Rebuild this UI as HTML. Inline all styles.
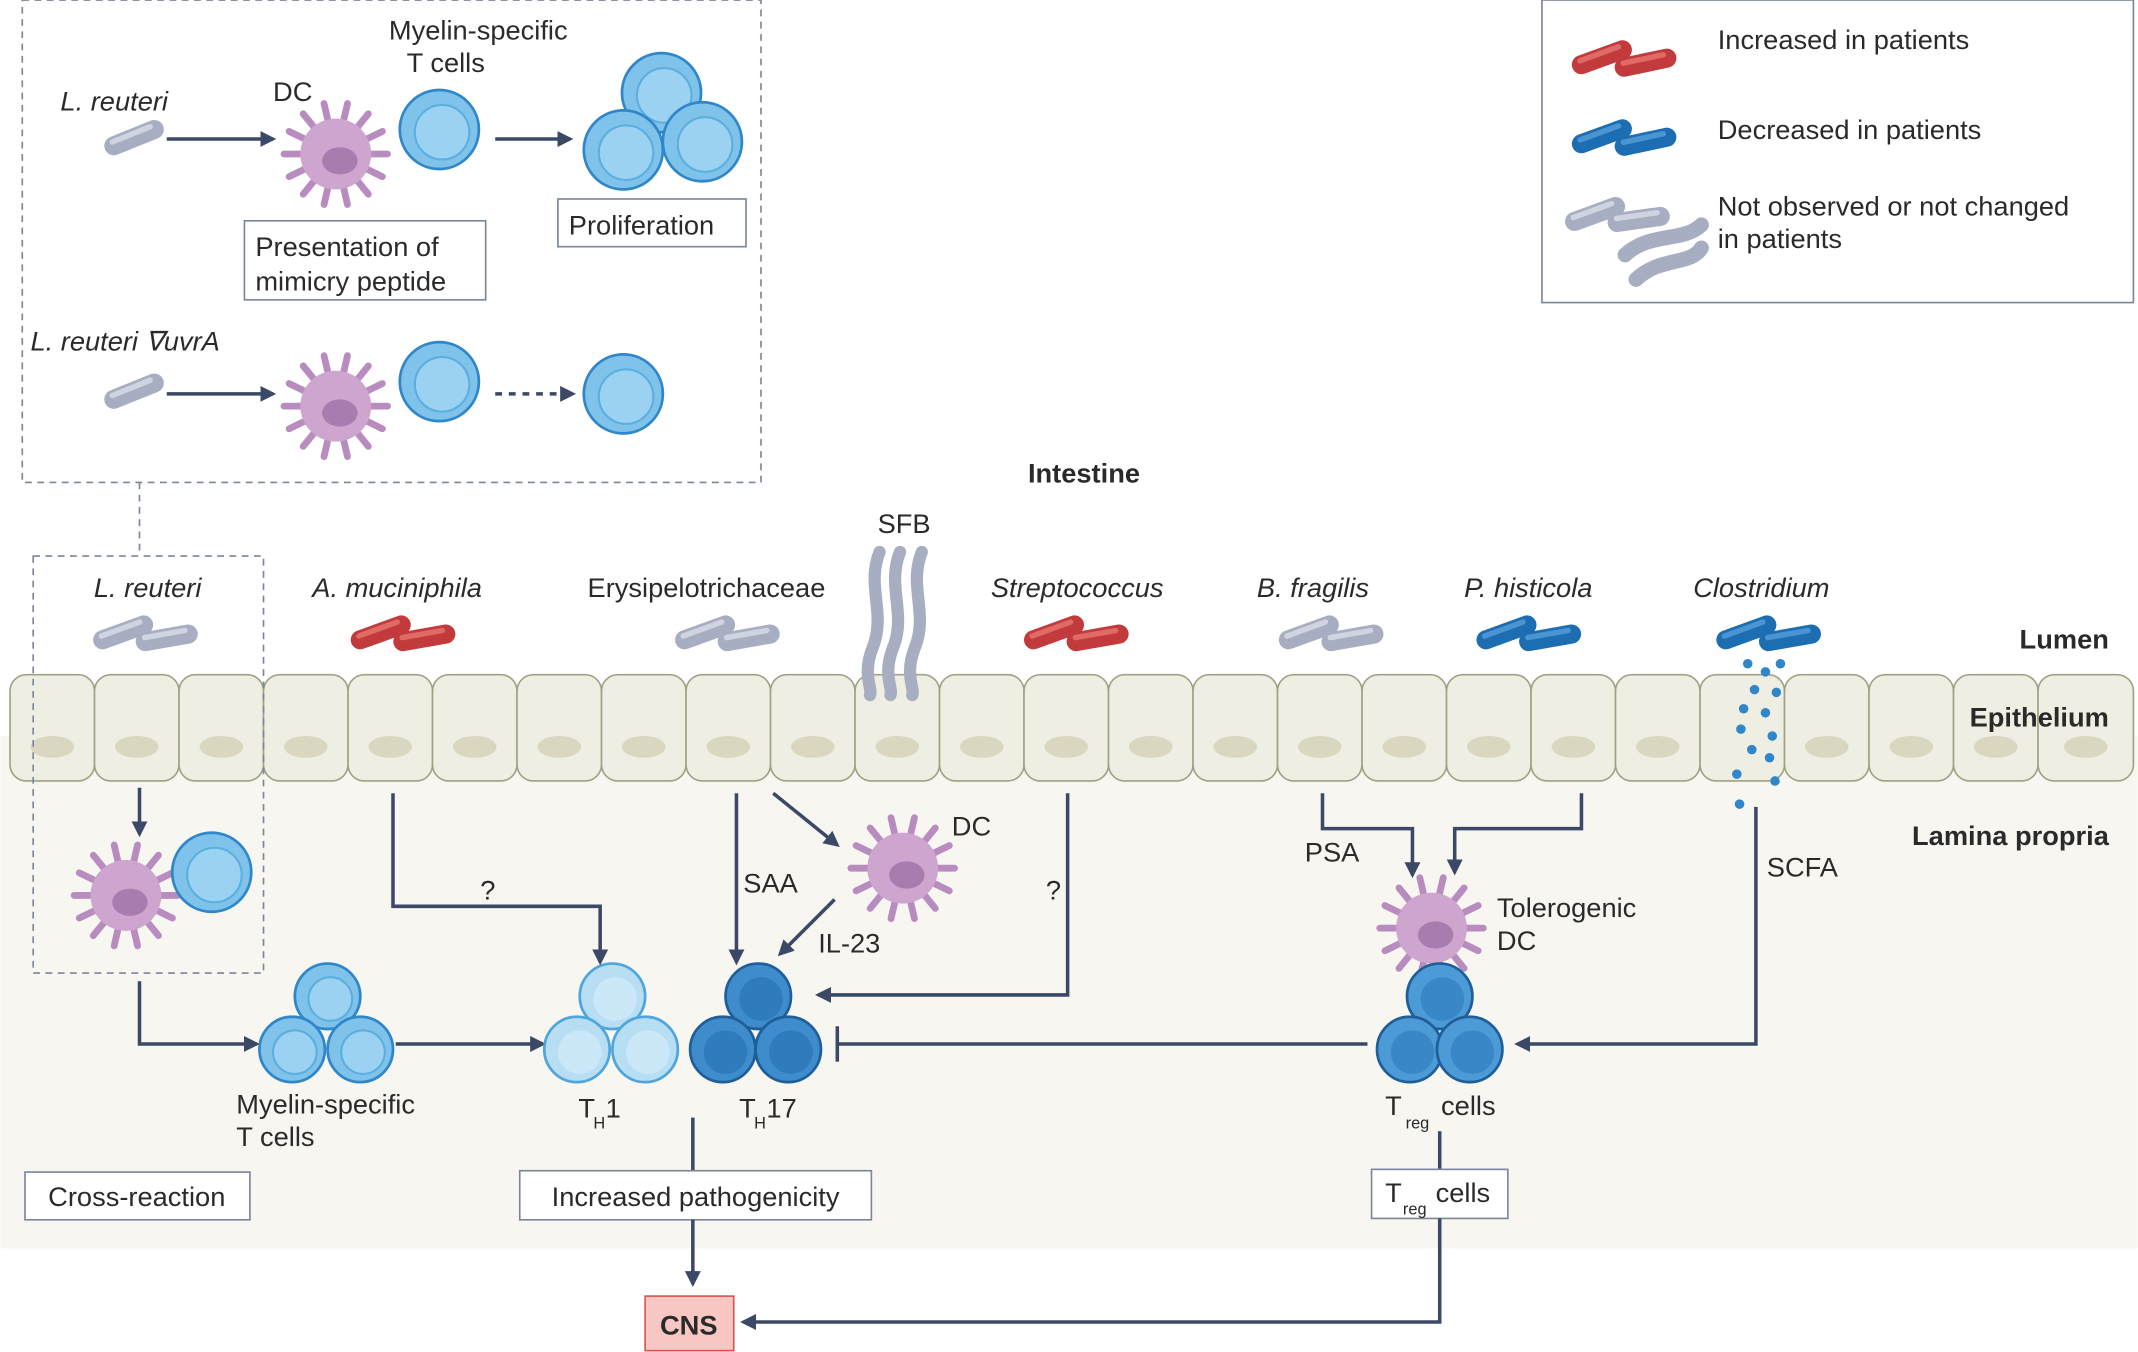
<!DOCTYPE html>
<html><head><meta charset="utf-8"><style>
html,body{margin:0;padding:0;background:#fff;}
svg{display:block;}
text{font-family:"Liberation Sans",sans-serif;font-size:20px;fill:#2a2a2a;}
.i{font-style:italic;}
.b{font-weight:bold;}
.ar{stroke:#3b4866;stroke-width:2.6;fill:none;}
</style></head><body>
<svg width="2138" height="1352" viewBox="0 0 1568 992" xmlns="http://www.w3.org/2000/svg">
<defs>
<marker id="ah" viewBox="0 0 10 10" refX="8" refY="5" markerWidth="4.5" markerHeight="4.5" orient="auto"><path d="M0,0 L10,5 L0,10 z" fill="#3b4866"/></marker>
<symbol id="dc" viewBox="-45 -45 90 90" overflow="visible">
<g stroke="#b88cbf" stroke-width="5" stroke-linecap="round">
<line x1="22" y1="0" x2="38" y2="0"/><line x1="19.8" y1="9.6" x2="34.2" y2="16.6"/><line x1="13.8" y1="17.1" x2="23.9" y2="29.5"/><line x1="5" y1="21.4" x2="8.6" y2="37"/><line x1="-5" y1="21.4" x2="-8.6" y2="37"/><line x1="-13.8" y1="17.1" x2="-23.9" y2="29.5"/><line x1="-19.8" y1="9.6" x2="-34.2" y2="16.6"/><line x1="-22" y1="0" x2="-38" y2="0"/><line x1="-19.8" y1="-9.6" x2="-34.2" y2="-16.6"/><line x1="-13.8" y1="-17.1" x2="-23.9" y2="-29.5"/><line x1="-5" y1="-21.4" x2="-8.6" y2="-37"/><line x1="5" y1="-21.4" x2="8.6" y2="-37"/><line x1="13.8" y1="-17.1" x2="23.9" y2="-29.5"/><line x1="19.8" y1="-9.6" x2="34.2" y2="-16.6"/>
</g>
<circle r="26" fill="#cda5cf"/>
<ellipse cx="3" cy="5" rx="13" ry="10" fill="#a97cb0"/>
</symbol>
<symbol id="tc" viewBox="-32 -32 64 64" overflow="visible">
<circle r="29" fill="#7fc2ea" stroke="#2f86c8" stroke-width="2"/><circle cx="2" cy="2" r="20" fill="#9bd2f1" stroke="#5aaee0" stroke-width="1.5"/>
</symbol>
<symbol id="tcs" viewBox="-32 -32 64 64" overflow="visible">
<circle r="24" fill="#7fc2ea" stroke="#2f86c8" stroke-width="2"/><circle cx="2" cy="2" r="16" fill="#9bd2f1" stroke="#5aaee0" stroke-width="1.5"/>
</symbol>
<symbol id="t1" viewBox="-32 -32 64 64" overflow="visible">
<circle r="24" fill="#b8def4" stroke="#4ea6dc" stroke-width="2"/><circle cx="2" cy="2" r="16" fill="#cbe8f8"/>
</symbol>
<symbol id="t17" viewBox="-32 -32 64 64" overflow="visible">
<circle r="24" fill="#3f8ccc" stroke="#1e5f9a" stroke-width="2"/><circle cx="2" cy="2" r="16" fill="#2f7bbd"/>
</symbol>
<symbol id="tr" viewBox="-32 -32 64 64" overflow="visible">
<circle r="24" fill="#4c9ad6" stroke="#1e5f9a" stroke-width="2"/><circle cx="2" cy="2" r="16" fill="#3a87c8"/>
</symbol>
<symbol id="bR" viewBox="-25 -9 50 18" overflow="visible"><rect x="-23" y="-7" width="46" height="14" rx="7" fill="#c23a3c"/><rect x="-18" y="-5" width="34" height="4" rx="2" fill="#e06a66"/></symbol>
<symbol id="bB" viewBox="-25 -9 50 18" overflow="visible"><rect x="-23" y="-7" width="46" height="14" rx="7" fill="#1d6db2"/><rect x="-18" y="-5" width="34" height="4" rx="2" fill="#4a94d2"/></symbol>
<symbol id="bG" viewBox="-25 -9 50 18" overflow="visible"><rect x="-23" y="-7" width="46" height="14" rx="7" fill="#a8aec2"/><rect x="-18" y="-5" width="34" height="4" rx="2" fill="#d0d4e0"/></symbol>
</defs>

<rect x="0" y="540" width="1568" height="376" fill="#f7f6f1"/>

<g id="epi">
<g stroke="#9fa384" stroke-width="1.2" fill="#efeee2">
<rect x="7" y="495" width="62" height="78" rx="12"/><rect x="69" y="495" width="62" height="78" rx="12"/><rect x="131" y="495" width="62" height="78" rx="12"/><rect x="193" y="495" width="62" height="78" rx="12"/><rect x="255" y="495" width="62" height="78" rx="12"/><rect x="317" y="495" width="62" height="78" rx="12"/><rect x="379" y="495" width="62" height="78" rx="12"/><rect x="441" y="495" width="62" height="78" rx="12"/><rect x="503" y="495" width="62" height="78" rx="12"/><rect x="565" y="495" width="62" height="78" rx="12"/><rect x="627" y="495" width="62" height="78" rx="12"/><rect x="689" y="495" width="62" height="78" rx="12"/><rect x="751" y="495" width="62" height="78" rx="12"/><rect x="813" y="495" width="62" height="78" rx="12"/><rect x="875" y="495" width="62" height="78" rx="12"/><rect x="937" y="495" width="62" height="78" rx="12"/><rect x="999" y="495" width="62" height="78" rx="12"/><rect x="1061" y="495" width="62" height="78" rx="12"/><rect x="1123" y="495" width="62" height="78" rx="12"/><rect x="1185" y="495" width="62" height="78" rx="12"/><rect x="1247" y="495" width="62" height="78" rx="12"/><rect x="1309" y="495" width="62" height="78" rx="12"/><rect x="1371" y="495" width="62" height="78" rx="12"/><rect x="1433" y="495" width="62" height="78" rx="12"/><rect x="1495" y="495" width="70" height="78" rx="12"/>
</g>
<g fill="#d9d7c0">
<ellipse cx="38" cy="548" rx="16" ry="8"/><ellipse cx="100" cy="548" rx="16" ry="8"/><ellipse cx="162" cy="548" rx="16" ry="8"/><ellipse cx="224" cy="548" rx="16" ry="8"/><ellipse cx="286" cy="548" rx="16" ry="8"/><ellipse cx="348" cy="548" rx="16" ry="8"/><ellipse cx="410" cy="548" rx="16" ry="8"/><ellipse cx="472" cy="548" rx="16" ry="8"/><ellipse cx="534" cy="548" rx="16" ry="8"/><ellipse cx="596" cy="548" rx="16" ry="8"/><ellipse cx="658" cy="548" rx="16" ry="8"/><ellipse cx="720" cy="548" rx="16" ry="8"/><ellipse cx="782" cy="548" rx="16" ry="8"/><ellipse cx="844" cy="548" rx="16" ry="8"/><ellipse cx="906" cy="548" rx="16" ry="8"/><ellipse cx="968" cy="548" rx="16" ry="8"/><ellipse cx="1030" cy="548" rx="16" ry="8"/><ellipse cx="1092" cy="548" rx="16" ry="8"/><ellipse cx="1154" cy="548" rx="16" ry="8"/><ellipse cx="1216" cy="548" rx="16" ry="8"/><ellipse cx="1340" cy="548" rx="16" ry="8"/><ellipse cx="1402" cy="548" rx="16" ry="8"/><ellipse cx="1464" cy="548" rx="16" ry="8"/><ellipse cx="1530" cy="548" rx="16" ry="8"/>
</g>
</g>

<rect x="16" y="0" width="542" height="354" fill="none" stroke="#7b8699" stroke-width="1.2" stroke-dasharray="5,4"/>
<line x1="102" y1="354" x2="102" y2="408" stroke="#7b8699" stroke-width="1.2" stroke-dasharray="5,4"/>
<rect x="24" y="408" width="169" height="306" fill="none" stroke="#7b8699" stroke-width="1.2" stroke-dasharray="5,4"/>

<text x="44" y="81" class="i">L. reuteri</text>
<use href="#bG" x="73" y="92" width="50" height="18" transform="rotate(-22 98 101)"/>
<line x1="122" y1="102" x2="200" y2="102" class="ar" marker-end="url(#ah)"/>
<text x="200" y="74">DC</text>
<use href="#dc" x="201" y="68" width="90" height="90"/>
<use href="#tc" x="290" y="63" width="64" height="64"/>
<text x="285" y="29">Myelin-specific</text>
<text x="298" y="53">T cells</text>
<line x1="363" y1="102" x2="418" y2="102" class="ar" marker-end="url(#ah)"/>
<use href="#tc" x="453" y="36" width="64" height="64"/>
<use href="#tc" x="425" y="78" width="64" height="64"/>
<use href="#tc" x="483" y="72" width="64" height="64"/>
<rect x="179" y="162" width="177" height="58" fill="#fff" stroke="#7b8699" stroke-width="1.2"/>
<text x="187" y="188">Presentation of</text><text x="187" y="213">mimicry peptide</text>
<rect x="409" y="146" width="138" height="35" fill="#fff" stroke="#7b8699" stroke-width="1.2"/>
<text x="417" y="172">Proliferation</text>

<text x="22" y="257" class="i">L. reuteri ∇uvrA</text>
<use href="#bG" x="73" y="278" width="50" height="18" transform="rotate(-22 98 287)"/>
<line x1="122" y1="289" x2="200" y2="289" class="ar" marker-end="url(#ah)"/>
<use href="#dc" x="201" y="253" width="90" height="90"/>
<use href="#tc" x="290" y="248" width="64" height="64"/>
<line x1="363" y1="289" x2="420" y2="289" class="ar" stroke-dasharray="5,5" marker-end="url(#ah)"/>
<use href="#tc" x="425" y="257" width="64" height="64"/>

<rect x="1131" y="0" width="434" height="222" fill="#fff" stroke="#7b8699" stroke-width="1.2"/>
<use href="#bR" x="1150" y="33" width="50" height="18" transform="rotate(-20 1175 42)"/>
<use href="#bR" x="1182" y="37" width="50" height="18" transform="rotate(-12 1207 46)"/>
<text x="1260" y="36">Increased in patients</text>
<use href="#bB" x="1150" y="91" width="50" height="18" transform="rotate(-20 1175 100)"/>
<use href="#bB" x="1182" y="95" width="50" height="18" transform="rotate(-12 1207 104)"/>
<text x="1260" y="102">Decreased in patients</text>
<use href="#bG" x="1145" y="148" width="50" height="18" transform="rotate(-20 1170 157)"/>
<use href="#bG" x="1177" y="152" width="50" height="18" transform="rotate(-8 1202 161)"/>
<path d="M1192,187 C1210,170 1235,178 1248,165" stroke="#a8aec2" stroke-width="11" stroke-linecap="round" fill="none"/>
<path d="M1200,205 C1218,188 1240,195 1248,182" stroke="#a8aec2" stroke-width="11" stroke-linecap="round" fill="none"/>
<text x="1260" y="158">Not observed or not changed</text>
<text x="1260" y="182">in patients</text>

<text x="795" y="354" class="b" text-anchor="middle">Intestine</text>
<text x="108" y="438" class="i" text-anchor="middle">L. reuteri</text>
<text x="291" y="438" class="i" text-anchor="middle">A. muciniphila</text>
<text x="518" y="438" text-anchor="middle">Erysipelotrichaceae</text>
<text x="663" y="391" text-anchor="middle">SFB</text>
<text x="790" y="438" class="i" text-anchor="middle">Streptococcus</text>
<text x="963" y="438" class="i" text-anchor="middle">B. fragilis</text>
<text x="1121" y="438" class="i" text-anchor="middle">P. histicola</text>
<text x="1292" y="438" class="i" text-anchor="middle">Clostridium</text>
<text x="1547" y="476" class="b" text-anchor="end">Lumen</text>
<text x="1547" y="533" class="b" text-anchor="end">Epithelium</text>
<text x="1547" y="620" class="b" text-anchor="end">Lamina propria</text>

<use href="#bG" x="65" y="455" width="50" height="18" transform="rotate(-20 90 464)"/><use href="#bG" x="97" y="459" width="50" height="18" transform="rotate(-10 122 468)"/>
<use href="#bR" x="254" y="455" width="50" height="18" transform="rotate(-20 279 464)"/><use href="#bR" x="286" y="459" width="50" height="18" transform="rotate(-10 311 468)"/>
<use href="#bG" x="492" y="455" width="50" height="18" transform="rotate(-20 517 464)"/><use href="#bG" x="524" y="459" width="50" height="18" transform="rotate(-10 549 468)"/>
<use href="#bR" x="748" y="455" width="50" height="18" transform="rotate(-20 773 464)"/><use href="#bR" x="780" y="459" width="50" height="18" transform="rotate(-10 805 468)"/>
<use href="#bG" x="935" y="455" width="50" height="18" transform="rotate(-20 960 464)"/><use href="#bG" x="967" y="459" width="50" height="18" transform="rotate(-10 992 468)"/>
<use href="#bB" x="1080" y="455" width="50" height="18" transform="rotate(-20 1105 464)"/><use href="#bB" x="1112" y="459" width="50" height="18" transform="rotate(-10 1137 468)"/>
<use href="#bB" x="1256" y="455" width="50" height="18" transform="rotate(-20 1281 464)"/><use href="#bB" x="1288" y="459" width="50" height="18" transform="rotate(-10 1313 468)"/>
<g stroke="#a8aec2" stroke-width="9" fill="none" stroke-linecap="round">
<path d="M645,405 C635,430 650,450 640,475 C632,495 640,505 638,510"/>
<path d="M660,405 C650,430 665,450 655,475 C647,495 655,505 653,510"/>
<path d="M676,405 C666,430 681,450 671,475 C663,495 671,505 669,510"/>
</g>
<g fill="#2f86c8">
<circle cx="1282" cy="487" r="3.5"/><circle cx="1306" cy="487" r="3.5"/><circle cx="1295" cy="493" r="3.5"/><circle cx="1287" cy="506" r="3.5"/><circle cx="1303" cy="508" r="3.5"/><circle cx="1279" cy="520" r="3.5"/><circle cx="1295" cy="523" r="3.5"/><circle cx="1277" cy="535" r="3.5"/><circle cx="1300" cy="540" r="3.5"/><circle cx="1285" cy="550" r="3.5"/><circle cx="1298" cy="556" r="3.5"/><circle cx="1274" cy="568" r="3.5"/><circle cx="1302" cy="573" r="3.5"/><circle cx="1276" cy="590" r="3.5"/>
</g>

<line x1="102" y1="578" x2="102" y2="612" class="ar" marker-end="url(#ah)"/>
<use href="#dc" x="47" y="612" width="90" height="90"/>
<use href="#tc" x="123" y="608" width="64" height="64"/>
<path d="M102,720 L102,766 L188,766" class="ar" marker-end="url(#ah)"/>
<use href="#tcs" x="208" y="699" width="64" height="64"/>
<use href="#tcs" x="182" y="738" width="64" height="64"/>
<use href="#tcs" x="232" y="738" width="64" height="64"/>
<text x="173" y="817">Myelin-specific</text>
<text x="173" y="841">T cells</text>
<line x1="290" y1="766" x2="398" y2="766" class="ar" marker-end="url(#ah)"/>

<use href="#t1" x="417" y="699" width="64" height="64"/>
<use href="#t1" x="391" y="738" width="64" height="64"/>
<use href="#t1" x="441" y="738" width="64" height="64"/>
<text x="424" y="820">T</text><text x="435" y="828" style="font-size:12px">H</text><text x="444" y="820">1</text>
<use href="#t17" x="524" y="699" width="64" height="64"/>
<use href="#t17" x="498" y="738" width="64" height="64"/>
<use href="#t17" x="546" y="738" width="64" height="64"/>
<text x="542" y="820">T</text><text x="553" y="828" style="font-size:12px">H</text><text x="562" y="820">17</text>

<path d="M288,582 L288,665 L440,665 L440,706" class="ar" marker-end="url(#ah)"/>
<text x="352" y="660">?</text>
<line x1="540" y1="582" x2="540" y2="706" class="ar" marker-end="url(#ah)"/>
<text x="545" y="655">SAA</text>
<line x1="567" y1="582" x2="614" y2="620" class="ar" marker-end="url(#ah)"/>
<use href="#dc" x="617" y="592" width="90" height="90"/>
<text x="698" y="613">DC</text>
<line x1="612" y1="660" x2="572" y2="700" class="ar" marker-end="url(#ah)"/>
<text x="600" y="699">IL-23</text>
<path d="M783,582 L783,730 L600,730" class="ar" marker-end="url(#ah)"/>
<text x="767" y="660">?</text>

<path d="M970,582 L970,608 L1036,608 L1036,642" class="ar" marker-end="url(#ah)"/>
<text x="957" y="632">PSA</text>
<path d="M1160,582 L1160,608 L1067,608 L1067,640" class="ar" marker-end="url(#ah)"/>
<use href="#dc" x="1005" y="636" width="90" height="90"/>
<text x="1098" y="673">Tolerogenic</text>
<text x="1098" y="697">DC</text>
<use href="#tr" x="1024" y="699" width="64" height="64"/>
<use href="#tr" x="1002" y="738" width="64" height="64"/>
<use href="#tr" x="1046" y="738" width="64" height="64"/>
<text x="1016" y="818">T</text><text x="1031" y="828" style="font-size:12px">reg</text><text x="1057" y="818">cells</text>
<line x1="1003" y1="766" x2="614" y2="766" class="ar"/>
<line x1="614" y1="753" x2="614" y2="779" class="ar"/>
<path d="M1288,592 L1288,766 L1113,766" class="ar" marker-end="url(#ah)"/>
<text x="1296" y="643">SCFA</text>

<line x1="508" y1="820" x2="508" y2="859" class="ar"/>
<rect x="381" y="859" width="258" height="36" fill="#fff" stroke="#7b8699" stroke-width="1.2"/>
<text x="510" y="885" text-anchor="middle">Increased pathogenicity</text>
<line x1="508" y1="895" x2="508" y2="942" class="ar" marker-end="url(#ah)"/>
<rect x="473" y="951" width="65" height="40" fill="#f8c7c4" stroke="#d9534f" stroke-width="1.2"/>
<text x="505" y="979" class="b" text-anchor="middle">CNS</text>
<line x1="1056" y1="830" x2="1056" y2="858" class="ar"/>
<rect x="1006" y="858" width="100" height="36" fill="#fff" stroke="#7b8699" stroke-width="1.2"/>
<text x="1016" y="882">T</text><text x="1029" y="891" style="font-size:12px">reg</text><text x="1053" y="882">cells</text>
<path d="M1056,894 L1056,970 L545,970" class="ar" marker-end="url(#ah)"/>
<rect x="18" y="860" width="165" height="35" fill="#fff" stroke="#7b8699" stroke-width="1.2"/>
<text x="100" y="885" text-anchor="middle">Cross-reaction</text>
</svg>
</body></html>
